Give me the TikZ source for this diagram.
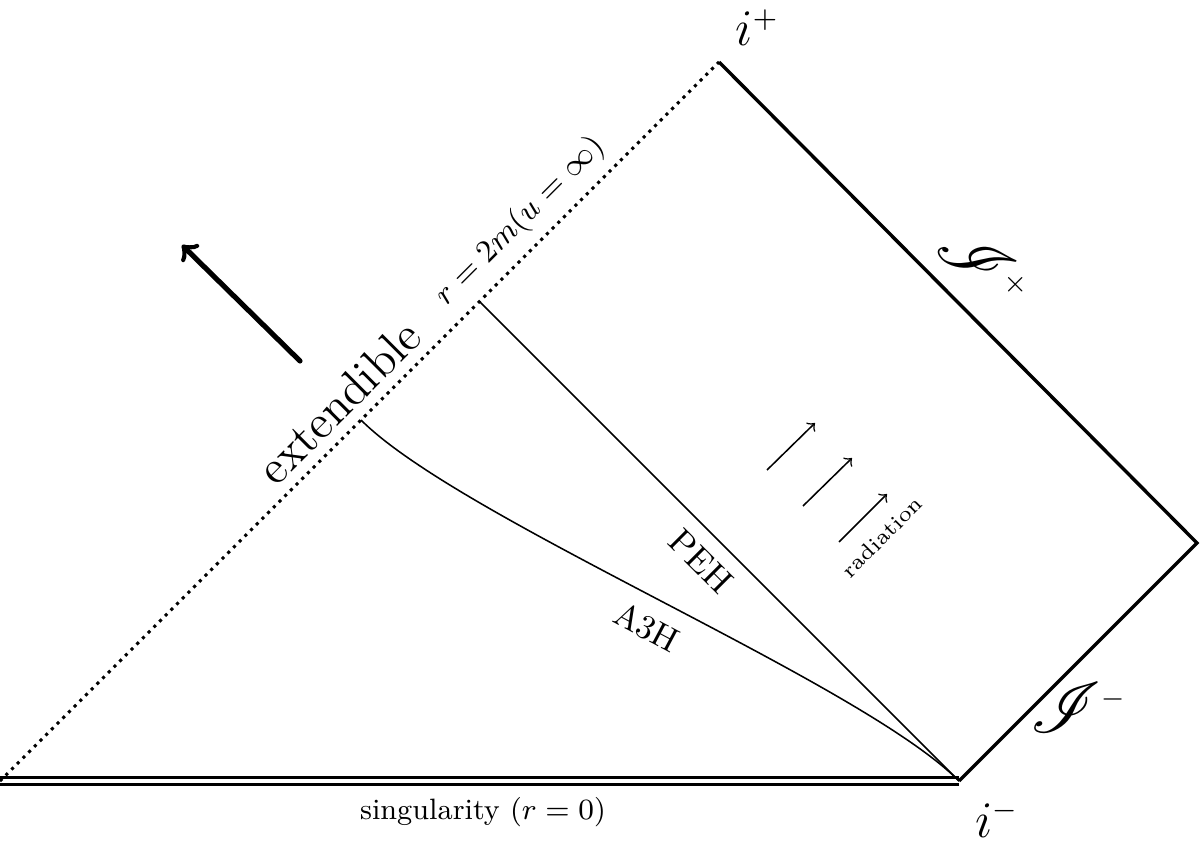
\RequirePackage{fix-cm}
\documentclass[tikz,border=0pt]{standalone}
\usepackage{mathrsfs}
\usetikzlibrary{arrows}
\begin{document}
\begin{tikzpicture}[x=0.292pt,y=-0.292pt,
  bound/.style={line width=1pt, line join=miter},
  dotline/.style={line width=0.9pt, dash pattern=on 0.9pt off 1.45pt},
  thinline/.style={line width=0.45pt},
  sing/.style={line width=0.75pt, double distance=1.2pt},
  radarrow/.style={line width=0.45pt, -to},
  bigarrow/.style={line width=1.5pt, -to, line cap=round},
  lbl/.style={inner sep=0pt},
]
\useasboundingbox (0,0) rectangle (1200,851);
\coordinate (A) at (0,781);
\coordinate (im) at (959,781);
\coordinate (R) at (1197,543);
\coordinate (ip) at (719,62);
\coordinate (peh) at (479.5,301.5);
\coordinate (a3h) at (361,420);
\draw[sing] (A) -- (im);
\draw[dotline] (A) -- (ip);
\draw[bound] (ip) -- (R) -- (im);
\draw[thinline] (im) -- (peh);
\draw[thinline] (a3h) .. controls +(100,100) and +(-100,-100) .. (im);
% big arrow
\coordinate (ext0) at (300,361);
\coordinate (ext1) at (182,245);
\draw[bigarrow] (ext0) -- (ext1);
% radiation arrows
\coordinate (r1a) at (767,470); \coordinate (r1b) at (815,423);
\coordinate (r2a) at (803,506); \coordinate (r2b) at (852,458);
\coordinate (r3a) at (839,542); \coordinate (r3b) at (887,494);
\draw[radarrow] (r1a) -- (r1b);
\draw[radarrow] (r2a) -- (r2b);
\draw[radarrow] (r3a) -- (r3b);
% labels
\node[lbl, rotate=45, font=\fontsize{13.9}{16}\selectfont] (extl) at (339,402) {extendible};
\node[lbl, rotate=45, font=\fontsize{9.3}{11}\selectfont] (rl) at (520,221) {$r=2m(u=\infty)$};
\node[lbl, rotate=-45, font=\fontsize{10.2}{12}\selectfont] (pehl) at (701,561) {PEH};
\node[lbl, rotate=-28, font=\fontsize{10}{12}\selectfont] (a3hl) at (647,627) {A3H};
\node[lbl, rotate=45, font=\fontsize{6.3}{8}\selectfont] (radl) at (882,537) {radiation};
\node[lbl, font=\fontsize{8.6}{10}\selectfont] (singl) at (483,812) {singularity ($r=0$)};
\node[lbl, anchor=base west, font=\fontsize{15}{18}\selectfont] (ipl) at (735,46) {$i^{\mbox{\fontsize{8.6}{10}\selectfont$+$}}$};
\node[lbl, anchor=base west, font=\fontsize{15}{18}\selectfont] (iml) at (975,837) {$i^{\mbox{\fontsize{8.6}{10}\selectfont$-$}}$};
\node[lbl, font=\fontsize{21}{24}\selectfont] (scrim) at (1078,708) {$\mathscr{I}^{\mbox{\fontsize{8.2}{10}\selectfont$-$}}$};
\node[lbl, rotate=-45, font=\fontsize{21}{24}\selectfont] (scrip) at (985,266) {$\mathscr{I}^{\mbox{\fontsize{8.2}{10}\selectfont$+$}}$};
\end{tikzpicture}
\end{document}
